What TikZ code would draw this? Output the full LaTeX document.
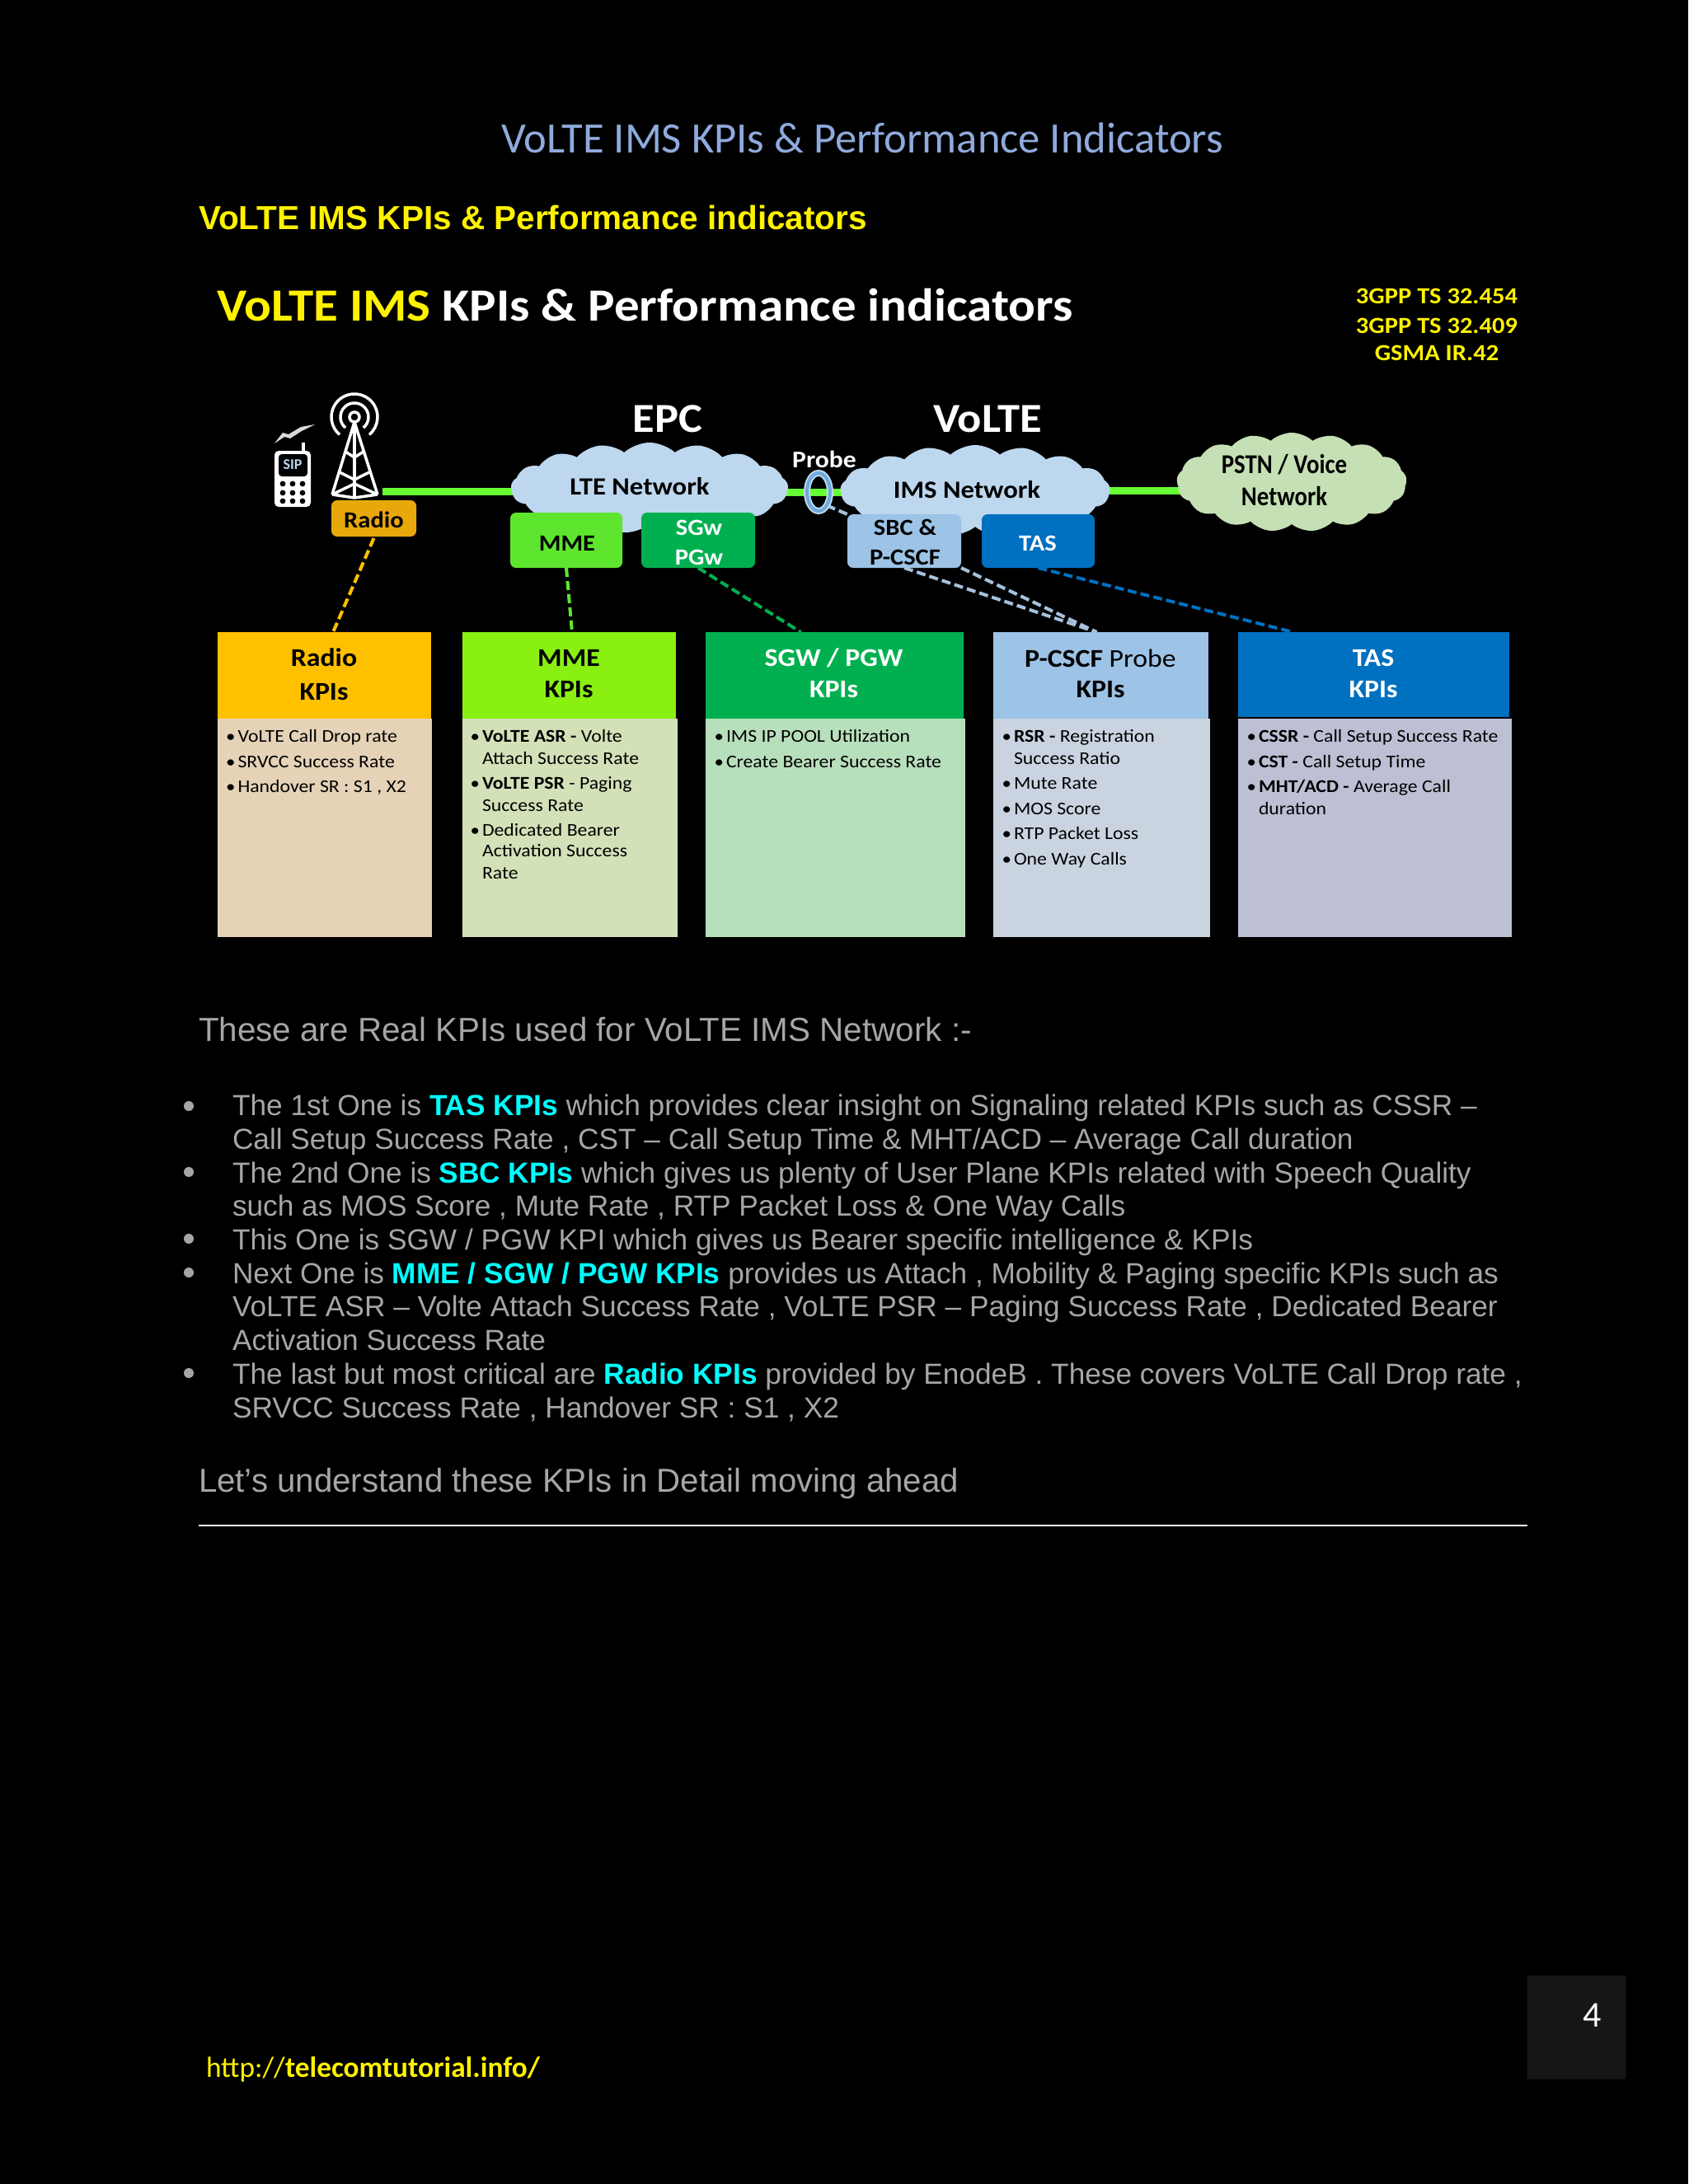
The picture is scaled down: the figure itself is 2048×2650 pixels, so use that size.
\documentclass[tikz,border=0pt]{standalone}
\usepackage{fontspec}
\setmainfont{Carlito}
\newfontfamily\arialf{Liberation Sans}
\newfontfamily\dfont[FakeStretch=1.09]{Carlito}
\newfontfamily\pfont[FakeStretch=0.875]{Carlito}
\usetikzlibrary{shapes.symbols,shapes.geometric,backgrounds}
\definecolor{radioC}{HTML}{FFC000}
\definecolor{radioBox}{HTML}{E8A80C}
\definecolor{radioBody}{HTML}{E5D2B7}
\definecolor{mmeC}{HTML}{8AF012}
\definecolor{mmeBox}{HTML}{5EE52E}
\definecolor{mmeBody}{HTML}{D3E1B8}
\definecolor{sgwC}{HTML}{00B050}
\definecolor{sgwBody}{HTML}{B8DFBC}
\definecolor{pcscfC}{HTML}{9DC3E6}
\definecolor{pcscfBody}{HTML}{CAD4E0}
\definecolor{tasC}{HTML}{0070C0}
\definecolor{tasBody}{HTML}{BDBFD4}
\definecolor{linkG}{HTML}{66FF33}
\definecolor{cloudB}{HTML}{BDD7EE}
\definecolor{cloudG}{HTML}{C5E0B4}
\definecolor{titleC}{HTML}{8FAADC}
\definecolor{greyT}{HTML}{A6A6A6}
\definecolor{dashP}{HTML}{A5C1DE}
\definecolor{pageBox}{HTML}{161616}
\definecolor{cyanT}{HTML}{00FFFF}
\newcommand{\fs}[1]{\fontsize{#1}{#1}\selectfont}
\newcommand{\cy}[1]{\textcolor{cyanT}{\bfseries #1}}
\newcommand{\bu}{\llap{\fs{21}\textbullet\kern3pt}}
\tikzset{
  txt/.style={inner sep=0pt,outer sep=0pt},
  para/.style={txt,anchor=base west,text=greyT,font=\arialf\fs{35.25}},
  dotb/.style={circle,fill=greyT,minimum size=12pt,inner sep=0pt},
  hdr/.style={draw=none,inner sep=0pt,outer sep=0pt,anchor=north west},
  bodyline/.style={txt,anchor=base west,text=black,font=\dfont\fs{21.8}},
  headtxt/.style={txt,text=black,font=\dfont\bfseries\fs{31}},
  boxn/.style={rounded corners=7pt,inner sep=0pt,outer sep=0pt,anchor=north west},
  boxt/.style={txt,text=black,font=\dfont\bfseries\fs{28}},
  netcloud/.style={cloud,cloud puffs=17,cloud puff arc=85,cloud ignores aspect,inner sep=0pt,outer sep=0pt},
  green link/.style={linkG,line width=9pt},
  dash link/.style={line width=4pt,dash pattern=on 11pt off 5pt},
}
\begin{document}
\begin{tikzpicture}[x=1pt,y=-1pt]
\useasboundingbox (0,0) rectangle (2048,2650);
\begin{scope}[on background layer]
\fill[black] (0,0) rectangle (2048,2650);
\end{scope}
% page titles
\node[txt,text=titleC,font=\fs{52.6}] (pagetitle) at (1046,167) {VoLTE IMS KPIs \& Performance Indicators};
\node[txt,anchor=base west,text=yellow,font=\arialf\bfseries\fs{40.5}] (subtitle) at (241,278) {VoLTE IMS KPIs \& Performance indicators};
\node[txt,anchor=base west,text=white,font=\dfont\bfseries\fs{56}] (dtitle) at (263,389) {\textcolor{yellow}{VoLTE IMS} KPIs \& Performance indicators};
\node[txt,text=yellow,font=\dfont\bfseries\fs{28}] (ref1) at (1743,359) {3GPP TS 32.454};
\node[txt,text=yellow,font=\dfont\bfseries\fs{28}] (ref2) at (1743,395) {3GPP TS 32.409};
\node[txt,text=yellow,font=\dfont\bfseries\fs{28}] (ref3) at (1743,428) {GSMA IR.42};
% handset
\fill[white,rounded corners=5pt] (333,547) rectangle (377,615);
\fill[white] (365.5,537) rectangle (369.5,548);
\fill[black,rounded corners=4pt] (338,551) rectangle (373,578);
\node[txt,text=cloudB,font=\bfseries\fs{18}] (simtxt) at (355,564) {SIP};
\foreach \kx in {343,355,367}{\foreach \ky in {587,598,608}{\fill[black] (\kx,\ky) circle (3.4pt);}}
\fill[white!85!black] (333,538) -- (343,525) -- (350,527) -- (365,518) -- (382,515) -- (366,523) -- (352,532) -- (345,530) -- cycle;
% tower
\begin{scope}[white,line width=3.5pt]
\draw (430,506) circle (6pt);
\draw (440.9,519) arc[start angle=-50,end angle=230,radius=17pt];
\draw (448,527.4) arc[start angle=-50,end angle=230,radius=28pt];
\draw (430,512) -- (403,600);
\draw (430,512) -- (458,600);
\draw (430,512) -- (430,604);
\draw (419,548) -- (430,555) -- (441,548);
\draw (412,573) -- (430,582) -- (448,573);
\draw (403,600) -- (430,587) -- (458,600);
\draw (403,600) -- (430,604) -- (458,600);
\end{scope}
\coordinate (towerfoot) at (464,596);
% clouds
\node[netcloud,fill=cloudB,minimum width=336pt,minimum height=110pt] (lte) at (788,592) {};
\node[netcloud,fill=cloudB,minimum width=327pt,minimum height=110pt] (ims) at (1183,595) {};
\node[netcloud,fill=cloudG,minimum width=279pt,minimum height=120pt] (pstn) at (1567,585) {};
\node[txt,text=black,font=\dfont\bfseries\fs{30}] (ltetxt) at (776,590) {LTE Network};
\node[txt,text=black,font=\dfont\bfseries\fs{30}] (imstxt) at (1173,594) {IMS Network};
\node[txt,text=black,font=\pfont\bfseries\fs{33}] (pstn1) at (1558,564) {PSTN / Voice};
\node[txt,text=black,font=\pfont\bfseries\fs{33}] (pstn2) at (1558,602) {Network};
\node[txt,text=white,font=\dfont\bfseries\fs{50}] (epc) at (810,508) {EPC};
\node[txt,text=white,font=\dfont\bfseries\fs{50}] (volte) at (1198,508) {VoLTE};
\node[txt,text=white,font=\dfont\bfseries\fs{29}] (probe) at (1000,557) {Probe};
\node[ellipse,draw=cloudB,line width=2pt,double=pcscfC!70!tasC,double distance=4pt,minimum width=28pt,minimum height=46pt,inner sep=0pt,outer sep=0pt] (ring) at (993,597) {};
% small boxes
\node[boxn,fill=radioBox,minimum width=103pt,minimum height=44pt] (radio) at (402,607) {};
\node[boxt] (radiot) at (453.5,631) {Radio};
\node[boxn,fill=mmeBox,minimum width=136pt,minimum height=67pt] (mme) at (619,622) {};
\node[boxt] (mmet) at (688,659) {MME};
\node[boxn,fill=sgwC,minimum width=138pt,minimum height=67pt] (sgw) at (778,622) {};
\node[boxt,text=white] (sgwt1) at (848,640) {SGw};
\node[boxt,text=white] (sgwt2) at (848,676) {PGw};
\node[boxn,fill=pcscfC,minimum width=138pt,minimum height=65pt] (sbc) at (1028,624) {};
\node[boxt] (sbct1) at (1098,640) {SBC \&};
\node[boxt] (sbct2) at (1098,676) {P-CSCF};
\node[boxn,fill=tasC,minimum width=137pt,minimum height=65pt] (tas) at (1191,624) {};
\node[boxt,text=white] (tast) at (1259,659) {TAS};
% KPI columns: headers
\node[hdr,fill=radioC,minimum width=259pt,minimum height=105pt] (hradio) at (264,767) {};
\node[hdr,fill=radioBody,minimum width=260pt,minimum height=265pt] (bradio) at (264,872) {};
\node[hdr,fill=mmeC,minimum width=259pt,minimum height=105pt] (hmme) at (561,767) {};
\node[hdr,fill=mmeBody,minimum width=261pt,minimum height=265pt] (bmme) at (561,872) {};
\node[hdr,fill=sgwC,minimum width=313pt,minimum height=105pt] (hsgw) at (856,767) {};
\node[hdr,fill=sgwBody,minimum width=315pt,minimum height=265pt] (bsgw) at (856,872) {};
\node[hdr,fill=pcscfC,minimum width=261pt,minimum height=105pt] (hpcscf) at (1205,767) {};
\node[hdr,fill=pcscfBody,minimum width=263pt,minimum height=265pt] (bpcscf) at (1205,872) {};
\node[hdr,fill=tasC,minimum width=329pt,minimum height=103pt] (htas) at (1502,767) {};
\node[hdr,fill=tasBody,minimum width=332pt,minimum height=265pt] (btas) at (1502,872) {};
\node[headtxt] (h1a) at (393,798) {Radio};
\node[headtxt] (h1b) at (393,840) {KPIs};
\node[headtxt] (h2a) at (690,798) {MME};
\node[headtxt] (h2b) at (690,837) {KPIs};
\node[headtxt,text=white] (h3a) at (1011.5,798) {SGW / PGW};
\node[headtxt,text=white] (h3b) at (1011.5,837) {KPIs};
\node[headtxt] (h4a) at (1335,799) {P-CSCF \mdseries Probe};
\node[headtxt] (h4b) at (1335,837) {KPIs};
\node[headtxt,text=white] (h5a) at (1666,798) {TAS};
\node[headtxt,text=white] (h5b) at (1666,837) {KPIs};
% KPI body lines
\node[bodyline] (r1) at (288.5,900) {\bu VoLTE Call Drop rate};
\node[bodyline] (r2) at (288.5,931) {\bu SRVCC Success Rate};
\node[bodyline] (r3) at (288.5,961) {\bu Handover SR : S1 , X2};
\node[bodyline] (m1) at (585,900) {\bu\textbf{VoLTE ASR -} Volte};
\node[bodyline] (m2) at (585,927) {Attach Success Rate};
\node[bodyline] (m3) at (585,957) {\bu\textbf{VoLTE PSR} - Paging};
\node[bodyline] (m4) at (585,984) {Success Rate};
\node[bodyline] (m5) at (585,1014) {\bu Dedicated Bearer};
\node[bodyline] (m6) at (585,1039) {Activation Success};
\node[bodyline] (m7) at (585,1066) {Rate};
\node[bodyline] (s1) at (881,900) {\bu IMS IP POOL Utilization};
\node[bodyline] (s2) at (881,931) {\bu Create Bearer Success Rate};
\node[bodyline] (p1) at (1230,900) {\bu\textbf{RSR -} Registration};
\node[bodyline] (p2) at (1230,927) {Success Ratio};
\node[bodyline] (p3) at (1230,957) {\bu Mute Rate};
\node[bodyline] (p4) at (1230,988) {\bu MOS Score};
\node[bodyline] (p5) at (1230,1018) {\bu RTP Packet Loss};
\node[bodyline] (p6) at (1230,1049) {\bu One Way Calls};
\node[bodyline] (t1) at (1527,900) {\bu\textbf{CSSR -} Call Setup Success Rate};
\node[bodyline] (t2) at (1527,931) {\bu\textbf{CST -} Call Setup Time};
\node[bodyline] (t3) at (1527,961) {\bu\textbf{MHT/ACD -} Average Call};
\node[bodyline] (t4) at (1527,988) {duration};
% connectors, behind the nodes
\begin{scope}[on background layer]
\draw[green link] (towerfoot) -- (towerfoot -| lte.center);
\draw[green link] (ring.center -| lte.center) -- (ring.center -| ims.center);
\draw[green link] (ims.center) -- (ims.center -| pstn.center);
\draw[dash link,draw=radioC] (radio.south) ++(0,2) -- ([xshift=10.6pt]hradio.north);
\draw[dash link,draw=mmeBox] (mme.south) -- ([xshift=3.5pt]hmme.north);
\draw[dash link,draw=sgwC] (sgw.south) -- ([xshift=-41pt]hsgw.north);
\draw[dash link,draw=dashP] (ring.south east) -- (sbc.north west);
\draw[dash link,draw=dashP] (sbc.south) -- ([xshift=-5pt]hpcscf.north);
\draw[dash link,draw=dashP] (sbc.south east) -- ([xshift=-5pt]hpcscf.north);
\draw[dash link,draw=tasC] (tas.south) -- ([xshift=-98pt]htas.north);
\end{scope}
% lower text
\node[txt,anchor=base west,text=greyT,font=\arialf\fs{40.4}] (intro) at (241,1263) {These are Real KPIs used for VoLTE IMS Network :-};
\node[dotb] (d1) at (229,1342) {};
\node[dotb] (d2) at (229,1422) {};
\node[dotb] (d3) at (229,1503) {};
\node[dotb] (d4) at (229,1544) {};
\node[dotb] (d5) at (229,1666) {};
\node[para] (l1) at (282,1353) {The 1st One is \cy{TAS KPIs} which provides clear insight on Signaling related KPIs such as CSSR –};
\node[para] (l2) at (282,1394) {Call Setup Success Rate , CST – Call Setup Time \& MHT/ACD – Average Call duration};
\node[para] (l3) at (282,1435) {The 2nd One is \cy{SBC KPIs} which gives us plenty of User Plane KPIs related with Speech Quality};
\node[para] (l4) at (282,1475) {such as MOS Score , Mute Rate , RTP Packet Loss \& One Way Calls};
\node[para] (l5) at (282,1516) {This One is SGW / PGW KPI which gives us Bearer specific intelligence \& KPIs};
\node[para] (l6) at (282,1557) {Next One is \cy{MME / SGW / PGW KPIs} provides us Attach , Mobility \& Paging specific KPIs such as};
\node[para] (l7) at (282,1597) {VoLTE ASR – Volte Attach Success Rate , VoLTE PSR – Paging Success Rate , Dedicated Bearer};
\node[para] (l8) at (282,1638) {Activation Success Rate};
\node[para] (l9) at (282,1679) {The last but most critical are \cy{Radio KPIs} provided by EnodeB . These covers VoLTE Call Drop rate ,};
\node[para] (l10) at (282,1720) {SRVCC Success Rate , Handover SR : S1 , X2};
\node[txt,anchor=base west,text=greyT,font=\arialf\fs{40.2}] (outro) at (241,1810) {Let’s understand these KPIs in Detail moving ahead};
\draw[white,line width=2pt] (241,1851) -- (1853,1851);
% footer
\node[hdr,fill=pageBox,rounded corners=2pt,minimum width=120pt,minimum height=126pt] (pbox) at (1852.5,2397) {};
\node[txt,text=white,font=\fs{44}] (pnum) at (1932,2445) {4};
\node[txt,anchor=base west,text=yellow,font=\fs{35.3}] (url) at (250,2520) {http://\textbf{telecomtutorial.info/}};
\end{tikzpicture}
\end{document}
